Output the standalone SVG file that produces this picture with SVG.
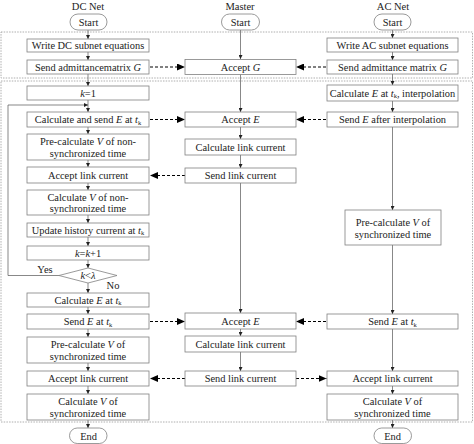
<svg xmlns="http://www.w3.org/2000/svg" width="474" height="444" viewBox="0 0 474 444">
<style>
.box{fill:#fff;stroke:#808080;stroke-width:0.8}
.t{font-family:"Liberation Serif",serif;font-size:10.4px;fill:#222;text-anchor:middle}
.h{font-family:"Liberation Serif",serif;font-size:10.5px;fill:#222;text-anchor:middle}
.i{font-style:italic}
.frame{fill:none;stroke:#9a9a9a;stroke-width:0.8;stroke-dasharray:1.5,1.2}
.flow{stroke:#555;stroke-width:0.7;fill:none;marker-end:url(#sa)}
.line{stroke:#555;stroke-width:0.7;fill:none}
.msg{stroke:#000;stroke-width:1;stroke-dasharray:3,2;fill:none;marker-end:url(#da)}
</style>
<defs>
<marker id="sa" markerUnits="userSpaceOnUse" markerWidth="4" markerHeight="4" refX="4" refY="2" orient="auto"><path d="M0,0 L4,2 L0,4 z" fill="#222"/></marker>
<marker id="da" markerUnits="userSpaceOnUse" markerWidth="8" markerHeight="7" refX="8" refY="3.5" orient="auto"><path d="M0,0 L8,3.5 L0,7 z" fill="#000"/></marker>
</defs>
<rect width="474" height="444" fill="#fff"/>
<g id="frames">
<rect class="frame" x="1" y="32" width="471.5" height="46"/>
<rect class="frame" x="1" y="81" width="471.5" height="341"/>
</g>
<g id="titles">
<text class="h" x="88" y="10">DC Net</text>
<text class="h" x="240" y="10">Master</text>
<text class="h" x="393" y="10">AC Net</text>
</g>
<g id="connectors">
<path class="flow" d="M88,30 V39"/>
<path class="flow" d="M88,52 V60"/>
<path class="flow" d="M88,74 V86"/>
<path class="flow" d="M88,100 V112"/>
<path class="line" d="M59,275.5 H8 V105"/>
<path class="flow" d="M8,105 H88"/>
<path class="flow" d="M88,127 V134"/>
<path class="flow" d="M88,160 V167"/>
<path class="flow" d="M88,183 V190"/>
<path class="flow" d="M88,215 V223"/>
<path class="flow" d="M88,237 V246"/>
<path class="flow" d="M88,260 V268"/>
<path class="flow" d="M88,283 V293"/>
<path class="flow" d="M88,307 V314"/>
<path class="flow" d="M88,329 V337"/>
<path class="flow" d="M88,363 V371"/>
<path class="flow" d="M88,386 V394"/>
<path class="flow" d="M88,420 V428"/>
<path class="flow" d="M240.5,30 V59"/>
<path class="flow" d="M240.5,74.5 V112"/>
<path class="flow" d="M240.5,127 V139"/>
<path class="flow" d="M240.5,155 V168"/>
<path class="flow" d="M240.5,183 V313"/>
<path class="flow" d="M240.5,329 V336"/>
<path class="flow" d="M240.5,352 V371"/>
<path class="flow" d="M392.5,30 V38"/>
<path class="flow" d="M392.5,52 V60"/>
<path class="flow" d="M392.5,74 V85"/>
<path class="flow" d="M392.5,101 V112"/>
<path class="flow" d="M392.5,127 V210"/>
<path class="flow" d="M392.5,245 V314"/>
<path class="flow" d="M392.5,329 V371"/>
<path class="flow" d="M392.5,386 V394"/>
<path class="flow" d="M392.5,420 V428"/>
<path class="msg" d="M150,67 H185"/>
<path class="msg" d="M326,67 H296"/>
<path class="msg" d="M150,119.5 H185"/>
<path class="msg" d="M326,119.5 H296"/>
<path class="msg" d="M185,175.5 H150"/>
<path class="msg" d="M150,321.5 H185"/>
<path class="msg" d="M326,321.5 H296"/>
<path class="msg" d="M185,378.5 H150"/>
<path class="msg" d="M296,378.5 H326.5"/>
</g>
<g id="dc-start"><rect class="box" x="70" y="14" width="37" height="16" rx="8"/><text class="t" x="88.5" y="25.5">Start</text></g>
<g id="master-start"><rect class="box" x="221.5" y="14" width="38" height="16" rx="8"/><text class="t" x="240.5" y="25.5">Start</text></g>
<g id="ac-start"><rect class="box" x="374" y="14" width="37" height="16" rx="8"/><text class="t" x="392.5" y="25.5">Start</text></g>

<g id="dc-write"><rect class="box" x="27" y="39" width="122" height="13"/><text class="t" x="88" y="49">Write DC subnet equations</text></g>
<g id="dc-sendG"><rect class="box" x="27" y="60" width="122" height="14"/><text class="t" x="88" y="70.5">Send admittancematrix <tspan class="i">G</tspan></text></g>
<g id="dc-k1"><rect class="box" x="27" y="86" width="122" height="14"/><text class="t" x="88" y="96.5"><tspan class="i">k</tspan>=1</text></g>
<g id="dc-calcsend"><rect class="box" x="27" y="112" width="122" height="15"/><text class="t" x="88" y="123">Calculate and send <tspan class="i">E</tspan> at <tspan class="i">t</tspan><tspan font-size="6.5" dy="1.5">k</tspan></text></g>
<g id="dc-precalc1"><rect class="box" x="27" y="134" width="122" height="26"/><text class="t" x="88" y="145">Pre-calculate <tspan class="i">V</tspan> of non-</text><text class="t" x="88" y="156.5">synchronized time</text></g>
<g id="dc-accept1"><rect class="box" x="27" y="167" width="122" height="16"/><text class="t" x="88" y="178.5">Accept link current</text></g>
<g id="dc-calcV1"><rect class="box" x="27" y="190" width="122" height="25"/><text class="t" x="88" y="200.5">Calculate <tspan class="i">V</tspan> of non-</text><text class="t" x="88" y="212">synchronized time</text></g>
<g id="dc-update"><rect class="box" x="27" y="223" width="122" height="14"/><text class="t" x="88" y="233.5">Update history current at <tspan class="i">t</tspan><tspan font-size="6.5" dy="1.5">k</tspan></text></g>
<g id="dc-kk1"><rect class="box" x="27" y="246" width="122" height="14"/><text class="t" x="88" y="256.5"><tspan class="i">k</tspan>=<tspan class="i">k</tspan>+1</text></g>
<g id="dc-decision"><path class="box" d="M59,275.5 L88,268 L117,275.5 L88,283 z"/><text class="t" x="88" y="279"><tspan class="i">k</tspan>&lt;<tspan class="i">λ</tspan></text><text class="h" x="45" y="273">Yes</text><text class="h" x="113" y="289">No</text></g>
<g id="dc-calcE"><rect class="box" x="27" y="293" width="122" height="14"/><text class="t" x="88" y="303.5">Calculate <tspan class="i">E</tspan> at <tspan class="i">t</tspan><tspan font-size="6.5" dy="1.5">k</tspan></text></g>
<g id="dc-sendE"><rect class="box" x="27" y="314" width="122" height="15"/><text class="t" x="88" y="325">Send <tspan class="i">E</tspan> at <tspan class="i">t</tspan><tspan font-size="6.5" dy="1.5">k</tspan></text></g>
<g id="dc-precalc2"><rect class="box" x="27" y="337" width="122" height="26"/><text class="t" x="88" y="348">Pre-calculate <tspan class="i">V</tspan> of</text><text class="t" x="88" y="359.5">synchronized time</text></g>
<g id="dc-accept2"><rect class="box" x="27" y="371" width="122" height="15"/><text class="t" x="88" y="382">Accept link current</text></g>
<g id="dc-calcV2"><rect class="box" x="27" y="394" width="122" height="26"/><text class="t" x="88" y="405">Calculate <tspan class="i">V</tspan> of</text><text class="t" x="88" y="416.5">synchronized time</text></g>
<g id="dc-end"><rect class="box" x="69.5" y="428" width="37.5" height="15.5" rx="7.7"/><text class="t" x="88.5" y="439.5">End</text></g>

<g id="m-acceptG"><rect class="box" x="185" y="59.5" width="111" height="15"/><text class="t" x="240.5" y="70.5">Accept <tspan class="i">G</tspan></text></g>
<g id="m-acceptE1"><rect class="box" x="185" y="112" width="111" height="15"/><text class="t" x="240.5" y="123">Accept <tspan class="i">E</tspan></text></g>
<g id="m-calc1"><rect class="box" x="185" y="139" width="111" height="16"/><text class="t" x="240.5" y="150.5">Calculate link current</text></g>
<g id="m-send1"><rect class="box" x="185" y="168" width="111" height="15"/><text class="t" x="240.5" y="179">Send link current</text></g>
<g id="m-acceptE2"><rect class="box" x="185" y="313" width="111" height="16"/><text class="t" x="240.5" y="324.5">Accept <tspan class="i">E</tspan></text></g>
<g id="m-calc2"><rect class="box" x="185" y="336" width="111" height="16"/><text class="t" x="240.5" y="347.5">Calculate link current</text></g>
<g id="m-send2"><rect class="box" x="185" y="371" width="111" height="15"/><text class="t" x="240.5" y="382">Send link current</text></g>

<g id="ac-write"><rect class="box" x="327" y="38" width="131" height="14"/><text class="t" x="392.5" y="48.5">Write AC subnet equations</text></g>
<g id="ac-sendG"><rect class="box" x="327" y="60" width="131" height="14"/><text class="t" x="392.5" y="70.5">Send admittance matrix <tspan class="i">G</tspan></text></g>
<g id="ac-calcE"><rect class="box" x="327" y="85" width="131" height="16"/><text class="t" x="392.5" y="96.5" font-size="10">Calculate <tspan class="i">E</tspan> at <tspan class="i">t</tspan><tspan font-size="6.5" dy="1.5">k</tspan><tspan dy="-1.5">, interpolation</tspan></text></g>
<g id="ac-sendE1"><rect class="box" x="327" y="112" width="131" height="15"/><text class="t" x="392.5" y="123">Send <tspan class="i">E</tspan> after interpolation</text></g>
<g id="ac-precalc"><rect class="box" x="345" y="210" width="96" height="35"/><text class="t" x="393" y="226">Pre-calculate <tspan class="i">V</tspan> of</text><text class="t" x="393" y="237.5">synchronized time</text></g>
<g id="ac-sendE2"><rect class="box" x="327" y="314" width="131" height="15"/><text class="t" x="392.5" y="325">Send <tspan class="i">E</tspan> at <tspan class="i">t</tspan><tspan font-size="6.5" dy="1.5">k</tspan></text></g>
<g id="ac-accept"><rect class="box" x="327" y="371" width="131" height="15"/><text class="t" x="392.5" y="382">Accept link current</text></g>
<g id="ac-calcV"><rect class="box" x="327" y="394" width="131" height="26"/><text class="t" x="392.5" y="405">Calculate <tspan class="i">V</tspan> of</text><text class="t" x="392.5" y="416.5">synchronized time</text></g>
<g id="ac-end"><rect class="box" x="374" y="428" width="37.5" height="15.5" rx="7.7"/><text class="t" x="392.5" y="439.5">End</text></g>
</svg>
